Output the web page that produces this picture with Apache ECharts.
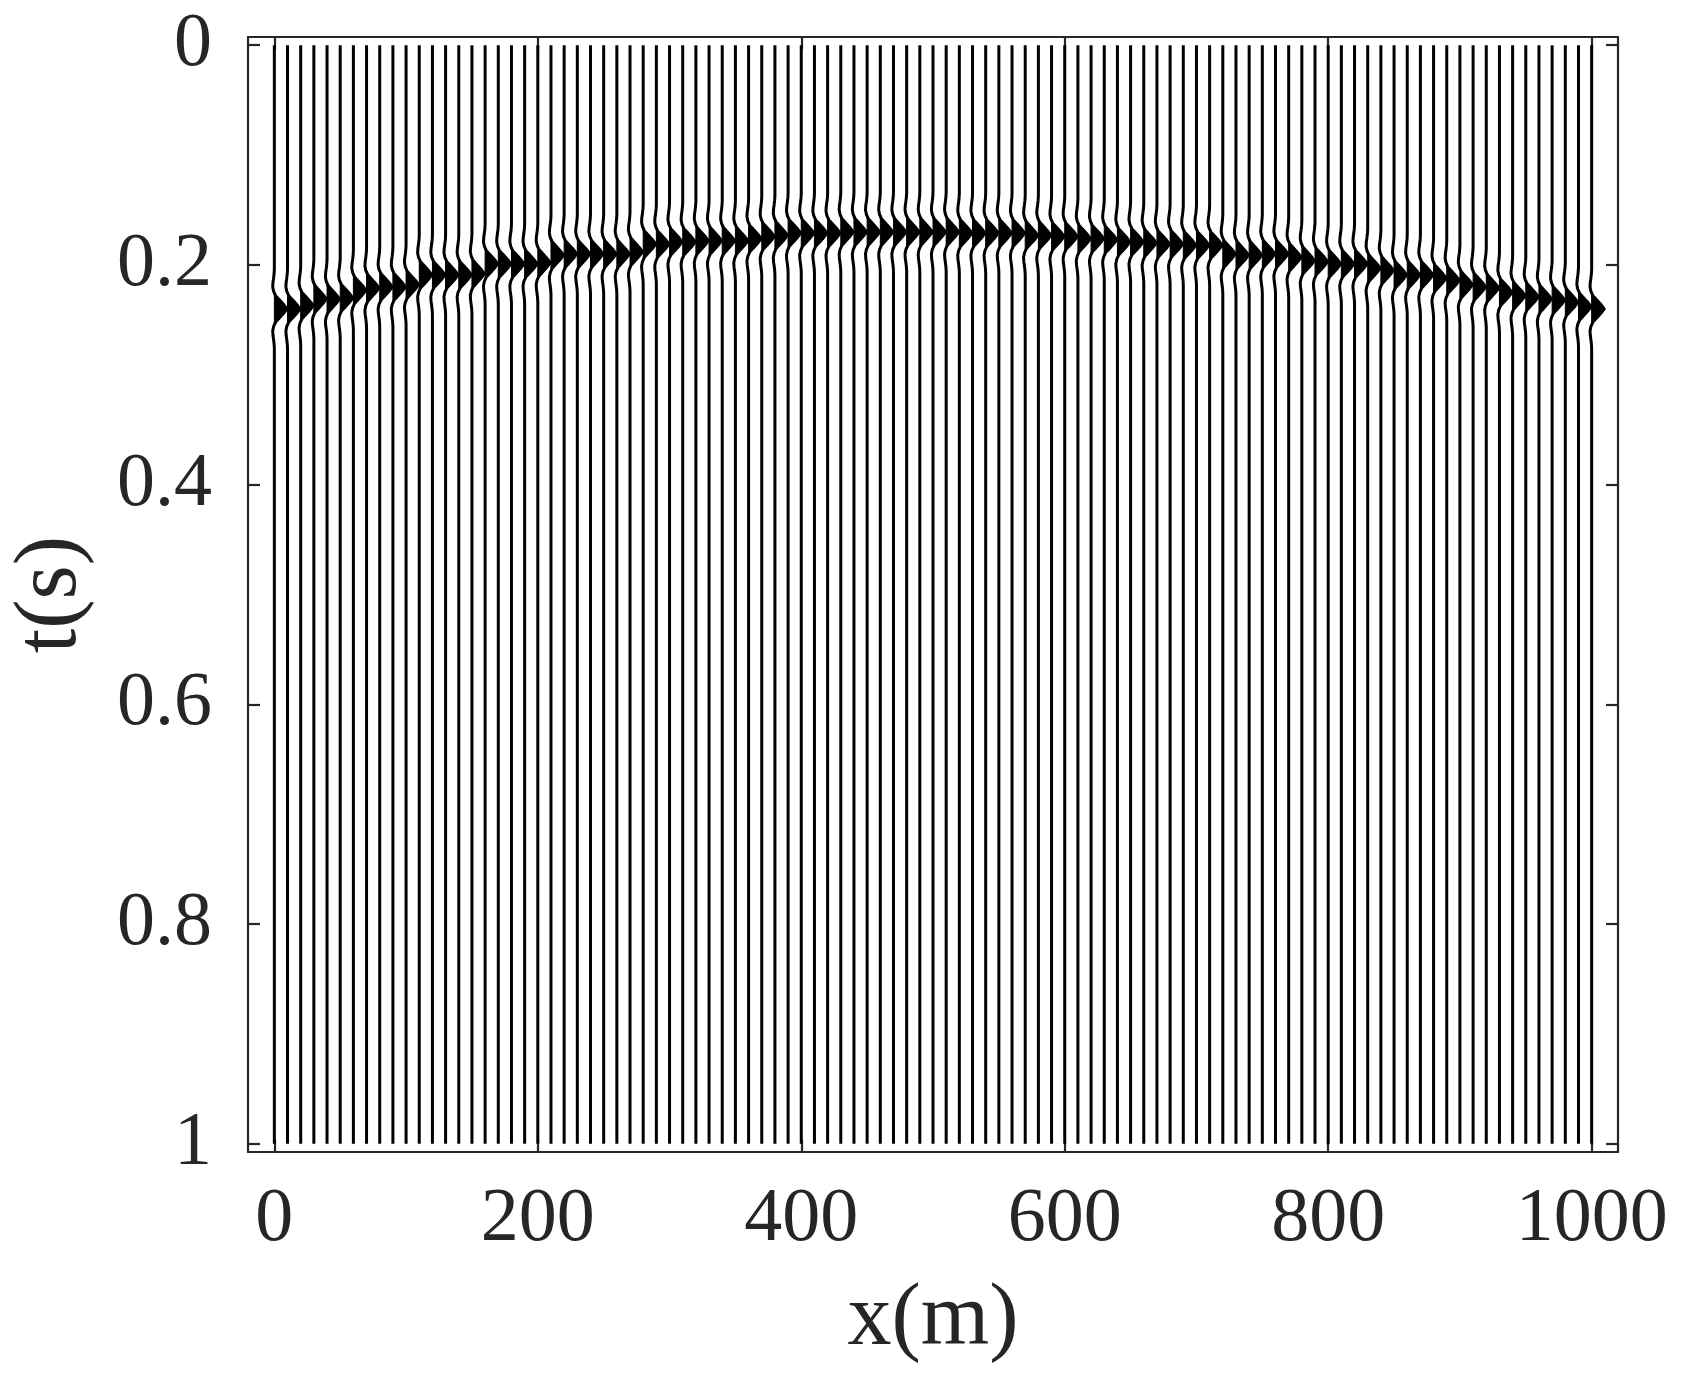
<!DOCTYPE html>
<html><head><meta charset="utf-8">
<script src="https://cdn.jsdelivr.net/npm/echarts@6/dist/echarts.min.js"></script>
<style>html,body{margin:0;padding:0;background:#fff}#c{width:1682px;height:1393px}</style>
</head><body><div id="c"></div>
<script>
// Trace positions along x (m)
const traceOffsets = [0,10,20,30,40,50,60,70,80,90,100,110,120,130,140,150,160,170,180,190,
  200,210,220,230,240,250,260,270,280,290,300,310,320,330,340,350,360,370,380,390,
  400,410,420,430,440,450,460,470,480,490,500,510,520,530,540,550,560,570,580,590,
  600,610,620,630,640,650,660,670,680,690,700,710,720,730,740,750,760,770,780,790,
  800,810,820,830,840,850,860,870,880,890,900,910,920,930,940,950,960,970,980,990,1000];
// Arrival time (s) of the event peak on each trace
const arrivalTimes = [0.240,0.240,0.237,0.231,0.231,0.230,0.223,0.221,0.220,0.220,
  0.218,0.209,0.209,0.209,0.209,0.208,0.199,0.199,0.199,0.199,
  0.198,0.191,0.190,0.190,0.190,0.190,0.190,0.188,0.181,0.181,
  0.179,0.179,0.178,0.178,0.178,0.178,0.176,0.174,0.173,0.171,
  0.171,0.171,0.171,0.170,0.170,0.170,0.170,0.170,0.170,0.170,
  0.170,0.170,0.171,0.171,0.171,0.171,0.171,0.173,0.173,0.174,
  0.174,0.176,0.176,0.177,0.179,0.179,0.180,0.181,0.181,0.182,
  0.182,0.182,0.190,0.191,0.191,0.190,0.190,0.193,0.196,0.197,
  0.199,0.199,0.199,0.203,0.205,0.209,0.209,0.209,0.212,0.214,
  0.218,0.220,0.221,0.225,0.228,0.229,0.231,0.232,0.234,0.238,0.240];
// Wavelet amplitude samples (normalised), centred on the arrival time
const waveletAmp = [0,-0.02,-0.06,-0.11,-0.13,-0.06,0.10,0.42,0.74,1.0,0.74,0.42,0.10,-0.06,-0.13,-0.11,-0.06,-0.02,0];
const waveletStep = 0.004;   // s between wavelet samples
const traceGain = 9.5;       // m of deflection for unit amplitude
const traceStart = 0, traceEnd = 1;
const xTicks = [0,200,400,600,800,1000];
const yTicks = [0,0.2,0.4,0.6,0.8,1];

const ink = '#262626';
const font = 'Liberation Serif, Times New Roman, serif';

function renderItem(params, api) {
  const i = api.value(2);
  const x0 = traceOffsets[i], ta = arrivalTimes[i];
  const n = waveletAmp.length, c = (n - 1) / 2;
  const wig = waveletAmp.map((w, k) => [x0 + traceGain * w, ta + (k - c) * waveletStep]);
  const linePts = [[x0, traceStart]].concat(wig, [[x0, traceEnd]]).map(p => api.coord(p));
  const fill = [];
  for (let k = 0; k < n; k++) {
    const w = waveletAmp[k];
    if (k > 0) {
      const wp = waveletAmp[k - 1];
      if ((wp > 0) !== (w > 0) && wp !== w) {
        const f = wp / (wp - w);
        fill.push([x0, ta + (k - 1 - c + f) * waveletStep]);
      }
    }
    if (w > 0) fill.push([x0 + traceGain * w, ta + (k - c) * waveletStep]);
  }
  return {
    type: 'group',
    children: [
      { type: 'polygon', shape: { points: fill.map(p => api.coord(p)) }, style: { fill: '#000', stroke: '#000', lineWidth: 1 } },
      { type: 'polyline', shape: { points: linePts }, style: { stroke: '#000', lineWidth: 3, fill: null, lineJoin: 'miter' } }
    ]
  };
}

const axisLineStyle = { color: ink, width: 2.2 };
const chart = echarts.init(document.getElementById('c'), null, { renderer: 'canvas' });
chart.setOption({
  animation: false,
  backgroundColor: '#fff',
  grid: { left: 238, top: 37, width: 1380, height: 1115, show: false },
  xAxis: [
    { type: 'value', min: -20, max: 1020, position: 'bottom',
      axisLine: { show: true, onZero: false, lineStyle: axisLineStyle },
      axisTick: { show: true, inside: true, length: 12, customValues: xTicks, lineStyle: axisLineStyle },
      axisLabel: { show: true, customValues: xTicks, fontFamily: font, fontSize: 76, color: ink, margin: 30,
        formatter: v => String(Math.round(v)) },
      splitLine: { show: false },
      name: 'x(m)', nameLocation: 'middle', nameGap: 125,
      nameTextStyle: { fontFamily: font, fontSize: 88, color: ink } },
    { type: 'value', min: -20, max: 1020, position: 'top',
      axisLine: { show: true, onZero: false, lineStyle: axisLineStyle },
      axisTick: { show: true, inside: true, length: 12, customValues: xTicks, lineStyle: axisLineStyle },
      axisLabel: { show: false }, splitLine: { show: false } }
  ],
  yAxis: [
    { type: 'value', min: -0.0075, max: 1.0075, inverse: true, position: 'left',
      axisLine: { show: true, onZero: false, lineStyle: axisLineStyle },
      axisTick: { show: true, inside: true, length: 12, customValues: yTicks, lineStyle: axisLineStyle },
      axisLabel: { show: true, customValues: yTicks, fontFamily: font, fontSize: 76, color: ink, margin: 36,
        formatter: v => String(Math.round(v * 10) / 10) },
      splitLine: { show: false },
      name: 't(s)', nameLocation: 'middle', nameGap: 152, nameRotate: 90,
      nameTextStyle: { fontFamily: font, fontSize: 88, color: ink } },
    { type: 'value', min: -0.0075, max: 1.0075, inverse: true, position: 'right',
      axisLine: { show: true, onZero: false, lineStyle: axisLineStyle },
      axisTick: { show: true, inside: true, length: 12, customValues: yTicks, lineStyle: axisLineStyle },
      axisLabel: { show: false }, splitLine: { show: false } }
  ],
  series: [{
    type: 'custom',
    xAxisIndex: 0, yAxisIndex: 0,
    renderItem: renderItem,
    clip: true,
    encode: { x: 0, y: 1 },
    data: traceOffsets.map((x, i) => [x, arrivalTimes[i], i])
  }]
});
</script>
</body></html>
